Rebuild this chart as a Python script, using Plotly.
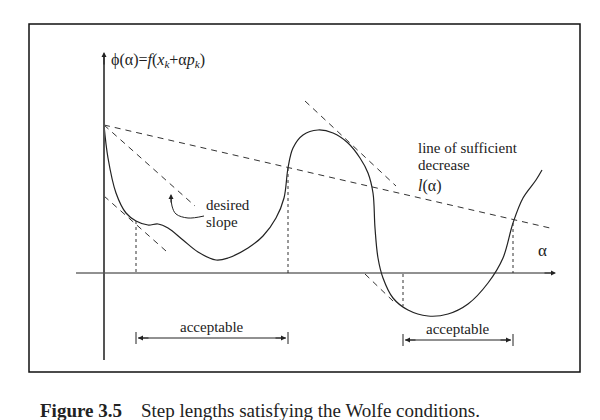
import plotly.graph_objects as go

# curve phi(alpha), in picture pixel coordinates
curve_x = [96,100,108,118,128,140,150,160,175,190,208,220,240,255,268,276,280,285,295,310,325,340,352,360,365,367,370,375,385,400,420,440,460,480,495,505,515,528,534]
curve_y = [117,150,185,205,213,217,216,220,232,244,252,250,240,228,210,190,160,140,127,122,125,135,150,165,185,220,250,270,290,302,308,306,296,275,250,215,190,172,162]
suff_x = [96,542]; suff_y = [117,220]
tangents = [([96,187],[117,198]),([96,158],[188,243]),([297,388],[93,178]),([357,386],[266,294])]
dotted = [([128,128],[213,265]),([280,280],[160,265]),([395,395],[266,298]),([505,505],[215,265])]
accept = [(128,280,330),(395,505,332)]

fig = go.Figure()
k = dict(color="#222", width=1)
fig.add_trace(go.Scatter(x=curve_x, y=curve_y, mode="lines", line=dict(color="#222", width=1.2, shape="spline")))
fig.add_trace(go.Scatter(x=suff_x, y=suff_y, mode="lines", line=dict(color="#333", width=1, dash="6px,5px")))
for tx, ty in tangents:
    fig.add_trace(go.Scatter(x=tx, y=ty, mode="lines", line=dict(color="#333", width=1, dash="6px,5px")))
for tx, ty in dotted:
    fig.add_trace(go.Scatter(x=tx, y=ty, mode="lines", line=dict(color="#333", width=1, dash="dot")))
fig.add_trace(go.Scatter(x=[68,545], y=[265,265], mode="lines", line=k))
fig.add_trace(go.Scatter(x=[96,96], y=[352,46], mode="lines", line=dict(color="#555", width=2)))
fig.add_trace(go.Scatter(x=[196,180,168,164,163], y=[208,210,206,198,188], mode="lines", line=dict(color="#222", width=1, shape="spline")))
for a,b,y in accept:
    fig.add_trace(go.Scatter(x=[a,a,None,b,b,None,a+2,b-2], y=[y-6,y+6,None,y-6,y+6,None,y,y], mode="lines", line=k))
fig.update_layout(showlegend=False)
for t in fig.data: t.hoverinfo = "skip"

ann = []
def arrow(x0,y0,x1,y1,sz=1):
    ann.append(dict(x=x1,y=y1,ax=x0,ay=y0,xref="x",yref="y",axref="x",ayref="y",showarrow=True,arrowhead=2,arrowsize=sz,arrowwidth=1,arrowcolor="#222",text=""))
arrow(535,265,548,265); arrow(96,58,96,44); arrow(163,196,163,186)
for a,b,y in accept:
    arrow(a+14,y,a+2,y); arrow(b-14,y,b-2,y)
    ann.append(dict(x=(a+b)/2,y=y-11,text="acceptable",showarrow=False,xref="x",yref="y",font=dict(size=15)))
def txt(x,y,s,size=15,xa="left"):
    ann.append(dict(x=x,y=y,text=s,showarrow=False,xref="x",yref="y",xanchor=xa,font=dict(size=size,color="#222")))
txt(408,140,"line of sufficient",15); txt(408,157,"decrease",15); txt(408,178,"<i>l</i>(α)",16)
txt(196,197,"desired",15); txt(196,214,"slope",15)
txt(528,242,"α",17)
txt(101,52,"ϕ(α)=<i>f</i>(<i>x</i><sub><i>k</i></sub>+α<i>p</i><sub><i>k</i></sub>)",16)
txt(30,402,"<b>Figure 3.5</b>    Step lengths satisfying the Wolfe conditions.",19)
fig.update_layout(annotations=ann, width=600, height=420, margin=dict(l=0,r=0,t=0,b=0),
    plot_bgcolor="white", paper_bgcolor="white", font=dict(family="Liberation Serif", color="#222"),
    xaxis=dict(range=[0,600], visible=False, fixedrange=True),
    yaxis=dict(range=[420,0], visible=False, fixedrange=True),
    shapes=[dict(type="rect",x0=21,y0=16,x1=572,y1=364,xref="x",yref="y",line=dict(color="#111",width=1.5))])
fig.write_html("out.html")
